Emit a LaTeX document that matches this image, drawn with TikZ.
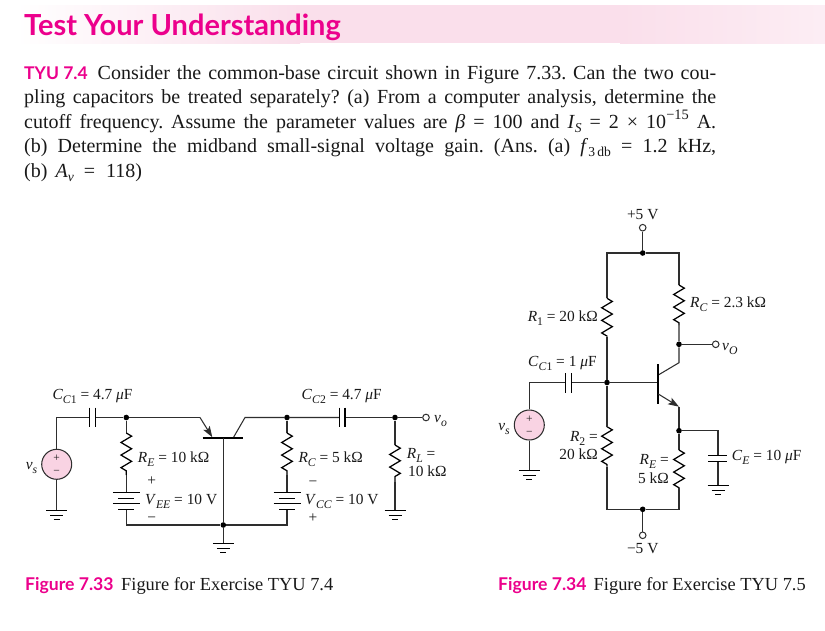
\documentclass[tikz,border=0pt]{standalone}
\usepackage{fontspec}
\usetikzlibrary{decorations.pathmorphing,arrows.meta,calc}
\setmainfont{Liberation Serif}
\newfontfamily\headfont{Lato}
\definecolor{tyupink}{HTML}{EC008C}
\definecolor{srcpink}{HTML}{F9D3E3}
\definecolor{bandpink}{HTML}{FADFEB}
\definecolor{wirecol}{HTML}{2E2E2E}
\newcommand{\lowsub}[1]{\raisebox{-0.3em}{\scalebox{0.76}{#1}}}
\newcommand{\bodysub}[1]{\raisebox{-0.2em}{\scalebox{0.68}{#1}}}
\newcommand{\ital}[1]{\textit{#1}}
\tikzset{
 x=1pt,y=-1pt,
 wire/.style={draw=wirecol,line width=1.05pt},
 thickbar/.style={draw=black,line width=1.9pt},
 plate/.style={draw=black,line width=1.3pt},
 capplate/.style={draw=black,line width=1.3pt},
 emit/.style={wire,-{Stealth[length=11pt,width=7.5pt,inset=2.5pt]}},
 resistor/.style={draw=black,line width=1.25pt,decorate,decoration={zigzag,amplitude=5.3pt,segment length=12.6pt,pre length=0pt,post length=0pt}},
 dot/.style={circle,fill=black,inner sep=0pt,minimum size=5.6pt},
 term/.style={circle,draw=wirecol,fill=white,line width=1pt,inner sep=0pt,minimum size=6.6pt},
 signmark/.style={font=\fontsize{11.5}{11.5}\selectfont,inner sep=0pt,text=black!90,anchor=mid},
 src/.style={circle,draw=wirecol,fill=srcpink,line width=1.05pt,inner sep=0pt,minimum size=30pt},
 lab/.style={font=\fontsize{15.4}{17}\selectfont,inner sep=0pt,text=black!90,anchor=mid,yshift=-2pt},
 labl/.style={lab,anchor=mid west},
 labr/.style={lab,anchor=mid east},
 bodyline/.style={anchor=base west,inner sep=0pt,font=\fontsize{20}{24}\selectfont,text=black!90},
 capt/.style={anchor=base west,inner sep=0pt,font=\fontsize{18.4}{22}\selectfont,text=black!90},
 head/.style={anchor=base west,inner sep=0pt,text=tyupink,font=\headfont\bfseries}
}
\newcommand{\gnd}[1]{%
 \draw[plate] ($(#1)+(-10.5,0)$) -- ($(#1)+(10.5,0)$);
 \draw[plate] ($(#1)+(-6.5,5)$) -- ($(#1)+(6.5,5)$);
 \draw[plate] ($(#1)+(-3,9)$) -- ($(#1)+(3,9)$);}
\newcommand{\batt}[1]{%
 \draw[plate] ($(#1)+(-13.5,0)$) -- ($(#1)+(13.5,0)$);
 \draw[plate] ($(#1)+(-8,6)$) -- ($(#1)+(8,6)$);
 \draw[plate] ($(#1)+(-13.5,11)$) -- ($(#1)+(13.5,11)$);
 \draw[plate] ($(#1)+(-8,17)$) -- ($(#1)+(8,17)$);}
\frenchspacing
\begin{document}
\begin{tikzpicture}
\useasboundingbox (0,0) rectangle (825,630);
\fill[white] (0,0) rectangle (825,630);
% banner
\shade[left color=white,right color=bandpink,shading angle=90] (16,5) rectangle (300,43);
\fill[bandpink] (300,5) rectangle (620,43);
\shade[left color=bandpink,right color=bandpink!55!white] (620,5) rectangle (825,43);
\node[head,font=\headfont\bfseries\fontsize{29}{30}\selectfont] (title) at (24,35) {Test Your Understanding};
% body
\node[bodyline] (l1) at (24,79) {\makebox[692pt][s]{\textcolor{tyupink}{\mbox{\headfont\bfseries\fontsize{17.5}{20}\selectfont TYU 7.4}}\hspace{0.5em}Consider the common-base circuit shown in Figure 7.33. Can the two cou-}};
\node[bodyline] (l2) at (24,103.5) {\makebox[692pt][s]{pling capacitors be treated separately? (a) From a computer analysis, determine the}};
\node[bodyline] (l3) at (24,128) {\makebox[692pt][s]{cutoff frequency. Assume the parameter values are \ital{β} = 100 and \ital{I}\bodysub{\ital{S}} = 2 × 10\raisebox{0.42em}{\scalebox{0.72}{−15}} A.}};
\node[bodyline] (l4) at (24,152.5) {\makebox[692pt][s]{(b) Determine the midband small-signal voltage gain. (Ans. (a) \ital{f}\bodysub{3\,db} = 1.2 kHz,}};
\node[bodyline] (l5) at (24,177) {(b)\hspace{8pt}\ital{A}\bodysub{\ital{v}}\hspace{10pt}=\hspace{11pt}118)};
% ----- Figure 7.33
\coordinate (aSrcTop) at (56.7,417.5);
\node[src] (vsA) at (56.7,464.3) {};
\node[signmark] (vsAp) at (56.7,459.5) {+};
\node[signmark] (vsAm) at (56.7,472.5) {−};
\coordinate (aCapL) at (89.5,417.5); \coordinate (aCapR) at (95.5,417.5);
\node[dot] (aE) at (126.3,417.5) {};
\coordinate (aEk) at (200,417.5);
\coordinate (aEtip) at (212.3,437.2);
\coordinate (aCb) at (233.3,437.7);
\coordinate (aCk) at (245,417.5);
\node[dot] (aC) at (287,417.5) {};
\coordinate (aC2L) at (339.5,417.5); \coordinate (aC2R) at (345,417.5);
\node[dot] (aOut) at (395,417.5) {};
\node[term] (aVo) at (426,417.5) {};
\coordinate (aBase) at (223.3,437.7);
\node[dot] (aGndDot) at (223.3,525) {};
\coordinate (aGnd) at (223.3,543.5);
\coordinate (aGndS) at (56.7,510.5);
\coordinate (aGndL) at (395,510.5);
\coordinate (aRE1) at (126.3,433); \coordinate (aRE2) at (126.3,475);
\coordinate (aB1) at (126.3,492.5); \coordinate (aB1b) at (126.3,509.5); \coordinate (aB1c) at (126.3,525);
\coordinate (aRC1) at (287,433); \coordinate (aRC2) at (287,475);
\coordinate (aB2) at (287,492.5); \coordinate (aB2b) at (287,509.5); \coordinate (aB2c) at (287,525);
\coordinate (aRL1) at (395,445); \coordinate (aRL2) at (395,482);
% wires
\draw[wire] (vsA.north) -- (aSrcTop) -- (aCapL);
\draw[wire] (aCapR) -- (aE) -- (aEk);
\draw[emit] (aEk) -- (aEtip);
\draw[wire] (aCb) -- (aCk) -- (aC) -- (aC2L);
\draw[wire] (aC2R) -- (aOut) -- (aVo);
\draw[thickbar] (202.7,437.7) -- (242.7,437.7);
\draw[wire] (aBase) -- (aGndDot) -- (aGnd);
\draw[wire] (vsA.south) -- (aGndS);
\draw[wire] (aE) -- (aRE1); \draw[resistor] (aRE1) -- (aRE2); \draw[wire] (aRE2) -- (aB1);
\draw[wire] (aB1b) -- (aB1c) -- (aGndDot) -- (aB2c) -- (aB2b);
\draw[wire] (aC) -- (aRC1); \draw[resistor] (aRC1) -- (aRC2); \draw[wire] (aRC2) -- (aB2);
\draw[wire] (aOut) -- (aRL1); \draw[resistor] (aRL1) -- (aRL2); \draw[wire] (aRL2) -- (aGndL);
\draw[capplate] (89.5,407.7) -- (89.5,427); \draw[capplate] (95.5,407.7) -- (95.5,427);
\draw[capplate] (339.5,407.7) -- (339.5,427); \draw[capplate] (345,407.7) -- (345,427);
\gnd{aGnd}\gnd{aGndS}\gnd{aGndL}
\batt{aB1}\batt{aB2}
% labels
\node[lab] at (92.5,395) {\ital{C}\lowsub{\ital{C}1} = 4.7 \ital{μ}F};
\node[labl] at (137.7,458) {\ital{R}\lowsub{\ital{E}} = 10 kΩ};
\node[lab] at (151.7,481) {+};
\node[labl] at (145,500) {\ital{V}\lowsub{\ital{EE}} = 10 V};
\node[lab] at (151.7,517.7) {−};
\node[lab] at (31.5,465) {\ital{v}\lowsub{\ital{s}}};
\node[lab] at (341.7,395) {\ital{C}\lowsub{\ital{C}2} = 4.7 \ital{μ}F};
\node[labl] at (298.3,458) {\ital{R}\lowsub{\ital{C}} = 5 kΩ};
\node[lab] at (313,482) {−};
\node[labl] at (305,500) {\ital{V}\lowsub{\ital{CC}} = 10 V};
\node[lab] at (313,517.7) {+};
\node[labl] at (406.7,454) {\ital{R}\lowsub{\ital{L}} =};
\node[labl] at (408,472) {10 kΩ};
\node[labl] at (434,418) {\ital{v}\lowsub{\ital{o}}};
% ----- Figure 7.34
\node[term] (bVp) at (642.7,227.7) {};
\node[dot] (bTop) at (642.7,253) {};
\coordinate (bTL) at (607,253); \coordinate (bTR) at (679,253);
\coordinate (bR1a) at (607,298.3); \coordinate (bR1b) at (607,336.7);
\node[dot] (bB) at (607,382.5) {};
\coordinate (bRCa) at (679,285); \coordinate (bRCb) at (679,325);
\node[dot] (bCn) at (679,344.3) {};
\node[term] (bVo) at (715.7,344.3) {};
\coordinate (bCk) at (679,362.7);
\coordinate (bCb) at (658.3,375);
\coordinate (bBb) at (657.7,382.5);
\coordinate (bEb) at (658.3,394);
\coordinate (bEk) at (679,406.7);
\node[dot] (bEn) at (679,430.7) {};
\coordinate (bCEt) at (718,430.7);
\coordinate (bCEa) at (718,455.5); \coordinate (bCEb) at (718,461.5);
\coordinate (bGndE) at (718,485.5);
\coordinate (bREa) at (679,450); \coordinate (bREb) at (679,488);
\coordinate (bBL) at (607,509.3); \coordinate (bBR) at (679,509.3);
\node[dot] (bBot) at (642.7,509.3) {};
\node[term] (bVm) at (642.7,535.3) {};
\coordinate (bR2a) at (607,426.7); \coordinate (bR2b) at (607,466.7);
\coordinate (bSrcT) at (529.3,382.5);
\coordinate (bCapL) at (565.5,382.5); \coordinate (bCapR) at (571.5,382.5);
\node[src] (vsB) at (529.3,425) {};
\node[signmark] (vsBp) at (529.3,420) {+};
\node[signmark] (vsBm) at (529.3,433) {−};
\coordinate (bGndS) at (529.3,470.5);
% wires
\draw[wire] (bVp) -- (bTop);
\draw[wire] (bR1a) -- (bTL) -- (bTop) -- (bTR) -- (bRCa);
\draw[resistor] (bR1a) -- (bR1b);
\draw[wire] (bR1b) -- (bB);
\draw[resistor] (bRCa) -- (bRCb);
\draw[wire] (bRCb) -- (bCn) -- (bCk) -- (bCb);
\draw[wire] (bCn) -- (bVo);
\draw[wire] (vsB.north) -- (bSrcT) -- (bCapL);
\draw[wire] (bCapR) -- (bB) -- (bBb);
\draw[thickbar] (657.7,364) -- (657.7,404);
\draw[emit] (bEb) -- (bEk);
\draw[wire] (bEk) -- (bEn);
\draw[wire] (bEn) -- (bCEt) -- (bCEa);
\draw[capplate] (708,455.5) -- (727,455.5); \draw[capplate] (708,461.5) -- (727,461.5);
\draw[wire] (bCEb) -- (bGndE);
\draw[wire] (bEn) -- (bREa);
\draw[resistor] (bREa) -- (bREb);
\draw[wire] (bREb) -- (bBR) -- (bBot) -- (bBL) -- (bR2b);
\draw[resistor] (bR2a) -- (bR2b);
\draw[wire] (bB) -- (bR2a);
\draw[wire] (bBot) -- (bVm);
\draw[wire] (vsB.south) -- (bGndS);
\draw[capplate] (565.5,373) -- (565.5,392.7); \draw[capplate] (571.5,373) -- (571.5,392.7);
\gnd{bGndE}\gnd{bGndS}
% labels
\node[lab] at (642.7,215) {+5 V};
\node[lab] at (642.7,549) {−5 V};
\node[labr] at (598,316.7) {\ital{R}\lowsub{1} = 20 kΩ};
\node[labl] at (690,303) {\ital{R}\lowsub{\ital{C}} = 2.3 kΩ};
\node[labl] at (722,346) {\ital{v}\lowsub{\ital{O}}};
\node[labl] at (528,361.7) {\ital{C}\lowsub{\ital{C}1} = 1 \ital{μ}F};
\node[labr] at (598,436.7) {\ital{R}\lowsub{2} =};
\node[labr] at (598,455) {20 kΩ};
\node[labr] at (669,460) {\ital{R}\lowsub{\ital{E}} =};
\node[labr] at (669,479) {5 kΩ};
\node[labl] at (731.7,455.7) {\ital{C}\lowsub{\ital{E}} = 10 \ital{μ}F};
\node[lab] at (504,426) {\ital{v}\lowsub{\ital{s}}};
% captions
\node[capt] (cap1) at (25,590) {\textcolor{tyupink}{\headfont\bfseries\fontsize{17.6}{20}\selectfont Figure 7.33}};
\node[capt] (cap1b) at (121,590) {Figure for Exercise TYU 7.4};
\node[capt] (cap2) at (498,590) {\textcolor{tyupink}{\headfont\bfseries\fontsize{17.6}{20}\selectfont Figure 7.34}};
\node[capt] (cap2b) at (593.5,590) {Figure for Exercise TYU 7.5};
\end{tikzpicture}
\end{document}
